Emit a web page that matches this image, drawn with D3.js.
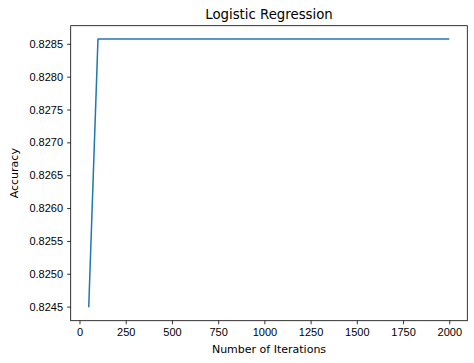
<!DOCTYPE html>
<html>
<head>
<meta charset="utf-8">
<script src="https://cdn.jsdelivr.net/npm/d3@7"></script>
<style>
  body { margin: 0; background: #fff; }
  svg { display: block; font-family: "DejaVu Sans", sans-serif; }
  .axis path, .axis line { stroke: #000; stroke-width: 0.8; }
  .axis text { fill: #000; font-size: 11px; }
</style>
</head>
<body>
<div id="chart"></div>
<script>
// Accuracy per iteration count
const iterations = [50, 100, 200, 300, 400, 500, 600, 700, 800, 900, 1000,
  1100, 1200, 1300, 1400, 1500, 1600, 1700, 1800, 1900, 2000];
const accuracy = [0.8244898, 0.8285714, 0.8285714, 0.8285714, 0.8285714, 0.8285714,
  0.8285714, 0.8285714, 0.8285714, 0.8285714, 0.8285714, 0.8285714, 0.8285714,
  0.8285714, 0.8285714, 0.8285714, 0.8285714, 0.8285714, 0.8285714, 0.8285714, 0.8285714];
const xTicks = [0, 250, 500, 750, 1000, 1250, 1500, 1750, 2000];
const yTicks = [0.8245, 0.8250, 0.8255, 0.8260, 0.8265, 0.8270, 0.8275, 0.8280, 0.8285];

const width = 474, height = 363;
const margin = { top: 25.7, right: 6.7, bottom: 42.3, left: 70.7 };
const innerW = width - margin.left - margin.right;
const innerH = height - margin.top - margin.bottom;

const svg = d3.select("#chart").append("svg")
  .attr("width", width).attr("height", height);
const plot = svg.append("g").attr("transform", `translate(${margin.left},${margin.top})`);

// matplotlib-style 5% padding around the data
const xExt = d3.extent(iterations), yExt = d3.extent(accuracy);
const xPad = (xExt[1] - xExt[0]) * 0.05, yPad = (yExt[1] - yExt[0]) * 0.05;
const x = d3.scaleLinear().domain([xExt[0] - xPad, xExt[1] + xPad]).range([0, innerW]);
const y = d3.scaleLinear().domain([yExt[0] - yPad, yExt[1] + yPad]).range([innerH, 0]);

plot.append("g").attr("class", "axis")
  .attr("transform", `translate(0,${innerH})`)
  .call(d3.axisBottom(x).tickValues(xTicks).tickSize(3.6).tickPadding(4).tickFormat(d3.format("d")))
  .call(g => g.select(".domain").remove());

plot.append("g").attr("class", "axis")
  .call(d3.axisLeft(y).tickValues(yTicks).tickSize(3.6).tickPadding(4).tickFormat(d3.format(".4f")))
  .call(g => g.select(".domain").remove());

plot.append("path")
  .datum(iterations.map((d, i) => [d, accuracy[i]]))
  .attr("fill", "none")
  .attr("stroke", "#1f77b4")
  .attr("stroke-width", 1.5)
  .attr("stroke-linejoin", "round")
  .attr("d", d3.line().x(d => x(d[0])).y(d => y(d[1])));

// frame
plot.append("rect")
  .attr("width", innerW).attr("height", innerH)
  .attr("fill", "none").attr("stroke", "#000").attr("stroke-width", 0.8);

svg.append("text")
  .attr("x", margin.left + innerW / 2).attr("y", 19)
  .attr("text-anchor", "middle").attr("font-size", 13.3)
  .text("Logistic Regression");

svg.append("text")
  .attr("x", margin.left + innerW / 2).attr("y", 352.5)
  .attr("text-anchor", "middle").attr("font-size", 11)
  .text("Number of Iterations");

svg.append("text")
  .attr("transform", `translate(18,${margin.top + innerH / 2}) rotate(-90)`)
  .attr("text-anchor", "middle").attr("font-size", 11)
  .text("Accuracy");
</script>
</body>
</html>
